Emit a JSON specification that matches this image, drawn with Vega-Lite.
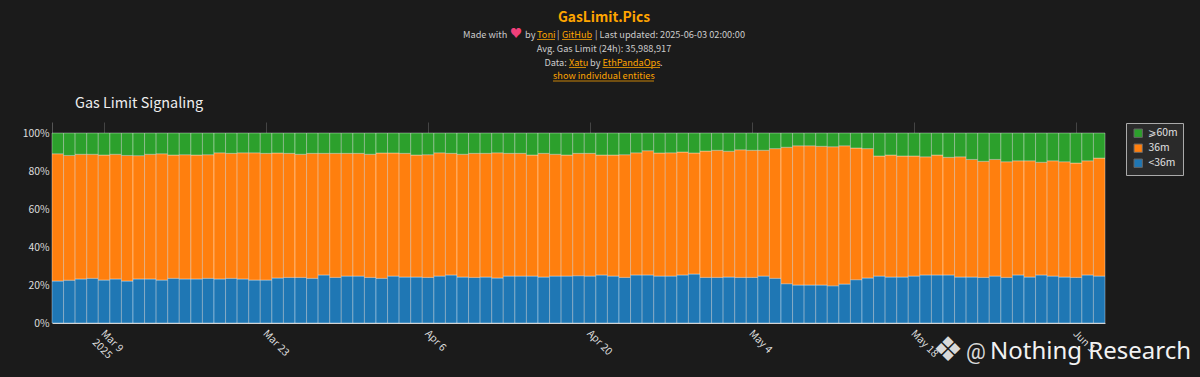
{"$schema":"https://vega.github.io/schema/vega-lite/v6.json","autosize":{"type":"none"},"width":1053,"height":201,"padding":{"left":52,"top":122,"right":95,"bottom":54},"background":"#1b1b1b","config":{"view":{"stroke":null},"font":"Noto Sans CJK SC","text":{"font":"Noto Sans CJK SC"}},"layer":[{"data":{"values":[
{"d":"2025-03-05","<36m":22.1,"36m":67.0,"⩾60m":10.9},{"d":"2025-03-06","<36m":22.5,"36m":65.7,"⩾60m":11.8},{"d":"2025-03-07","<36m":23.2,"36m":65.6,"⩾60m":11.2},{"d":"2025-03-08","<36m":23.5,"36m":65.3,"⩾60m":11.2},{"d":"2025-03-09","<36m":22.6,"36m":65.8,"⩾60m":11.6},{"d":"2025-03-10","<36m":23.2,"36m":65.6,"⩾60m":11.2},{"d":"2025-03-11","<36m":22.1,"36m":66.1,"⩾60m":11.8},{"d":"2025-03-12","<36m":23.2,"36m":64.9,"⩾60m":11.9},{"d":"2025-03-13","<36m":23.2,"36m":65.6,"⩾60m":11.2},{"d":"2025-03-14","<36m":22.6,"36m":66.5,"⩾60m":10.9},{"d":"2025-03-15","<36m":23.5,"36m":64.9,"⩾60m":11.6},{"d":"2025-03-16","<36m":23.2,"36m":65.4,"⩾60m":11.4},{"d":"2025-03-17","<36m":23.2,"36m":65.2,"⩾60m":11.6},{"d":"2025-03-18","<36m":23.5,"36m":65.1,"⩾60m":11.4},{"d":"2025-03-19","<36m":23.2,"36m":66.4,"⩾60m":10.4},{"d":"2025-03-20","<36m":23.5,"36m":65.8,"⩾60m":10.7},{"d":"2025-03-21","<36m":23.2,"36m":66.4,"⩾60m":10.4},{"d":"2025-03-22","<36m":22.6,"36m":67.0,"⩾60m":10.4},{"d":"2025-03-23","<36m":22.6,"36m":66.7,"⩾60m":10.7},{"d":"2025-03-24","<36m":23.7,"36m":65.8,"⩾60m":10.5},{"d":"2025-03-25","<36m":24.0,"36m":65.3,"⩾60m":10.7},{"d":"2025-03-26","<36m":24.0,"36m":64.8,"⩾60m":11.2},{"d":"2025-03-27","<36m":23.5,"36m":65.8,"⩾60m":10.7},{"d":"2025-03-28","<36m":25.3,"36m":64.0,"⩾60m":10.7},{"d":"2025-03-29","<36m":24.0,"36m":65.3,"⩾60m":10.7},{"d":"2025-03-30","<36m":24.7,"36m":64.6,"⩾60m":10.7},{"d":"2025-03-31","<36m":24.7,"36m":64.6,"⩾60m":10.7},{"d":"2025-04-01","<36m":24.0,"36m":64.8,"⩾60m":11.2},{"d":"2025-04-02","<36m":23.5,"36m":66.0,"⩾60m":10.5},{"d":"2025-04-03","<36m":24.7,"36m":64.8,"⩾60m":10.5},{"d":"2025-04-04","<36m":24.2,"36m":65.1,"⩾60m":10.7},{"d":"2025-04-05","<36m":24.2,"36m":64.2,"⩾60m":11.6},{"d":"2025-04-06","<36m":24.0,"36m":64.6,"⩾60m":11.4},{"d":"2025-04-07","<36m":24.7,"36m":64.9,"⩾60m":10.4},{"d":"2025-04-08","<36m":25.3,"36m":64.0,"⩾60m":10.7},{"d":"2025-04-09","<36m":24.2,"36m":64.6,"⩾60m":11.2},{"d":"2025-04-10","<36m":24.0,"36m":65.3,"⩾60m":10.7},{"d":"2025-04-11","<36m":24.2,"36m":65.1,"⩾60m":10.7},{"d":"2025-04-12","<36m":23.7,"36m":65.9,"⩾60m":10.4},{"d":"2025-04-13","<36m":24.7,"36m":64.6,"⩾60m":10.7},{"d":"2025-04-14","<36m":24.7,"36m":64.6,"⩾60m":10.7},{"d":"2025-04-15","<36m":24.7,"36m":63.7,"⩾60m":11.6},{"d":"2025-04-16","<36m":24.2,"36m":65.1,"⩾60m":10.7},{"d":"2025-04-17","<36m":24.7,"36m":64.1,"⩾60m":11.2},{"d":"2025-04-18","<36m":24.7,"36m":63.7,"⩾60m":11.6},{"d":"2025-04-19","<36m":24.9,"36m":64.4,"⩾60m":10.7},{"d":"2025-04-20","<36m":24.7,"36m":64.6,"⩾60m":10.7},{"d":"2025-04-21","<36m":25.3,"36m":63.1,"⩾60m":11.6},{"d":"2025-04-22","<36m":24.7,"36m":63.7,"⩾60m":11.6},{"d":"2025-04-23","<36m":24.0,"36m":64.6,"⩾60m":11.4},{"d":"2025-04-24","<36m":25.3,"36m":64.3,"⩾60m":10.4},{"d":"2025-04-25","<36m":25.3,"36m":65.4,"⩾60m":9.3},{"d":"2025-04-26","<36m":24.7,"36m":64.8,"⩾60m":10.5},{"d":"2025-04-27","<36m":24.7,"36m":64.9,"⩾60m":10.4},{"d":"2025-04-28","<36m":25.3,"36m":64.7,"⩾60m":10.0},{"d":"2025-04-29","<36m":25.8,"36m":63.7,"⩾60m":10.5},{"d":"2025-04-30","<36m":24.0,"36m":66.5,"⩾60m":9.5},{"d":"2025-05-01","<36m":24.0,"36m":66.9,"⩾60m":9.1},{"d":"2025-05-02","<36m":24.2,"36m":66.2,"⩾60m":9.6},{"d":"2025-05-03","<36m":24.0,"36m":67.2,"⩾60m":8.8},{"d":"2025-05-04","<36m":24.0,"36m":66.9,"⩾60m":9.1},{"d":"2025-05-05","<36m":24.7,"36m":66.2,"⩾60m":9.1},{"d":"2025-05-06","<36m":23.5,"36m":68.3,"⩾60m":8.2},{"d":"2025-05-07","<36m":20.7,"36m":71.8,"⩾60m":7.5},{"d":"2025-05-08","<36m":20.0,"36m":73.3,"⩾60m":6.7},{"d":"2025-05-09","<36m":20.0,"36m":73.3,"⩾60m":6.7},{"d":"2025-05-10","<36m":20.0,"36m":73.0,"⩾60m":7.0},{"d":"2025-05-11","<36m":19.6,"36m":73.2,"⩾60m":7.2},{"d":"2025-05-12","<36m":20.5,"36m":72.8,"⩾60m":6.7},{"d":"2025-05-13","<36m":22.8,"36m":69.3,"⩾60m":7.9},{"d":"2025-05-14","<36m":23.7,"36m":68.1,"⩾60m":8.2},{"d":"2025-05-15","<36m":24.7,"36m":63.2,"⩾60m":12.1},{"d":"2025-05-16","<36m":24.2,"36m":64.2,"⩾60m":11.6},{"d":"2025-05-17","<36m":24.2,"36m":63.7,"⩾60m":12.1},{"d":"2025-05-18","<36m":24.7,"36m":63.2,"⩾60m":12.1},{"d":"2025-05-19","<36m":25.3,"36m":62.2,"⩾60m":12.5},{"d":"2025-05-20","<36m":25.3,"36m":63.1,"⩾60m":11.6},{"d":"2025-05-21","<36m":25.3,"36m":61.9,"⩾60m":12.8},{"d":"2025-05-22","<36m":24.2,"36m":63.3,"⩾60m":12.5},{"d":"2025-05-23","<36m":24.2,"36m":61.9,"⩾60m":13.9},{"d":"2025-05-24","<36m":24.0,"36m":61.1,"⩾60m":14.9},{"d":"2025-05-25","<36m":24.7,"36m":61.4,"⩾60m":13.9},{"d":"2025-05-26","<36m":24.0,"36m":60.9,"⩾60m":15.1},{"d":"2025-05-27","<36m":25.3,"36m":60.1,"⩾60m":14.6},{"d":"2025-05-28","<36m":24.2,"36m":61.2,"⩾60m":14.6},{"d":"2025-05-29","<36m":25.3,"36m":59.3,"⩾60m":15.4},{"d":"2025-05-30","<36m":24.7,"36m":60.7,"⩾60m":14.6},{"d":"2025-05-31","<36m":24.2,"36m":60.7,"⩾60m":15.1},{"d":"2025-06-01","<36m":24.0,"36m":60.2,"⩾60m":15.8},{"d":"2025-06-02","<36m":25.3,"36m":60.1,"⩾60m":14.6},{"d":"2025-06-03","<36m":24.7,"36m":62.1,"⩾60m":13.2}
]},"transform":[{"fold":["<36m","36m","⩾60m"],"as":["category","share"]},{"lookup":"category","from":{"data":{"values":[{"category":"<36m","rank":1},{"category":"36m","rank":2},{"category":"⩾60m","rank":3}]},"key":"category","fields":["rank"]}}],"mark":{"type":"bar","stroke":"#ffffff","strokeOpacity":0.35,"strokeWidth":1},"encoding":{"x":{"field":"d","type":"ordinal","sort":null,"title":null,"scale":{"paddingInner":0,"paddingOuter":0},"axis":{"values":["2025-03-09","2025-03-23","2025-04-06","2025-04-20","2025-05-04","2025-05-18","2025-06-01"],"labelExpr":"datum.value=='2025-03-09'?['Mar 9','2025']:utcFormat(toDate(datum.value),'%b %-d')","labelAngle":45,"labelAlign":"left","labelBaseline":"top","labelColor":"#dddddd","labelFontSize":10.4,"labelPadding":5,"labelOffset":2,"labelOverlap":false,"ticks":false,"grid":true,"gridColor":"#444444","domain":true,"domainColor":"#cccccc"}},"y":{"field":"share","type":"quantitative","stack":"zero","title":null,"scale":{"domain":[0,105.8],"nice":false},"axis":{"values":[0,20,40,60,80,100],"labelExpr":"datum.value+'%'","labelColor":"#dddddd","labelFontSize":10.4,"labelPadding":3,"ticks":false,"grid":false,"domain":true,"domainColor":"#555555"}},"color":{"field":"category","type":"nominal","scale":{"domain":["⩾60m","36m","<36m"],"range":["#2ca02c","#ff7f0e","#1f77b4"]},"legend":{"title":null,"orient":"none","legendX":1074,"legendY":1,"padding":5,"fillColor":"#2a2a2a","strokeColor":"#aaaaaa","symbolType":"square","symbolSize":70,"symbolOffset":2,"symbolStrokeWidth":1,"symbolStrokeColor":"#666666","labelColor":"#e0e0e0","labelFontSize":10.4,"labelOffset":5,"rowPadding":2}},"order":{"field":"rank","type":"quantitative"}}},
{"data":{"values":[{"t":"GasLimit.Pics"}]},"mark":{"type":"text","align":"center","baseline":"alphabetic","fontSize":13.8,"fontWeight":"bold","color":"#ffa500"},"encoding":{"text":{"field":"t"},"x":{"value":552},"y":{"value":-100}}},
{"data":{"values":[{"t":"Gas Limit Signaling"}]},"mark":{"type":"text","align":"left","baseline":"alphabetic","fontSize":14.4,"color":"#eeeeee"},"encoding":{"text":{"field":"t"},"x":{"value":23},"y":{"value":-14}}},
{"data":{"values":[{"t":"Made with"}]},"mark":{"type":"text","align":"left","baseline":"alphabetic","fontSize":9.2,"color":"#cccccc"},"encoding":{"text":{"field":"t"},"x":{"value":411},"y":{"value":-84.5}}},
{"data":{"values":[{"t":"♥"}]},"mark":{"type":"text","align":"center","baseline":"alphabetic","fontSize":12,"color":"#f0407a"},"encoding":{"text":{"field":"t"},"x":{"value":464},"y":{"value":-84}}},
{"data":{"values":[{"t":"by"}]},"mark":{"type":"text","align":"left","baseline":"alphabetic","fontSize":9.2,"color":"#cccccc"},"encoding":{"text":{"field":"t"},"x":{"value":473},"y":{"value":-84.5}}},
{"data":{"values":[{"t":"Toni"}]},"mark":{"type":"text","align":"left","baseline":"alphabetic","fontSize":9.2,"color":"#ffa500"},"encoding":{"text":{"field":"t"},"x":{"value":485},"y":{"value":-84.5}}},
{"data":{"values":[{"t":"|"}]},"mark":{"type":"text","align":"left","baseline":"alphabetic","fontSize":9.2,"color":"#cccccc"},"encoding":{"text":{"field":"t"},"x":{"value":505},"y":{"value":-84.5}}},
{"data":{"values":[{"t":"GitHub"}]},"mark":{"type":"text","align":"left","baseline":"alphabetic","fontSize":9.2,"color":"#ffa500"},"encoding":{"text":{"field":"t"},"x":{"value":510},"y":{"value":-84.5}}},
{"data":{"values":[{"t":"| Last updated: 2025-06-03 02:00:00"}]},"mark":{"type":"text","align":"left","baseline":"alphabetic","fontSize":9.2,"color":"#cccccc"},"encoding":{"text":{"field":"t"},"x":{"value":543},"y":{"value":-84.5}}},
{"data":{"values":[{"t":"Avg. Gas Limit (24h): 35,988,917"}]},"mark":{"type":"text","align":"center","baseline":"alphabetic","fontSize":9.2,"color":"#cccccc"},"encoding":{"text":{"field":"t"},"x":{"value":552},"y":{"value":-70.5}}},
{"data":{"values":[{"t":"Data:"}]},"mark":{"type":"text","align":"left","baseline":"alphabetic","fontSize":9.2,"color":"#cccccc"},"encoding":{"text":{"field":"t"},"x":{"value":492.5},"y":{"value":-56.5}}},
{"data":{"values":[{"t":"Xatu"}]},"mark":{"type":"text","align":"left","baseline":"alphabetic","fontSize":9.2,"color":"#ffa500"},"encoding":{"text":{"field":"t"},"x":{"value":517},"y":{"value":-56.5}}},
{"data":{"values":[{"t":"by"}]},"mark":{"type":"text","align":"left","baseline":"alphabetic","fontSize":9.2,"color":"#cccccc"},"encoding":{"text":{"field":"t"},"x":{"value":538},"y":{"value":-56.5}}},
{"data":{"values":[{"t":"EthPandaOps"}]},"mark":{"type":"text","align":"left","baseline":"alphabetic","fontSize":9.2,"color":"#ffa500"},"encoding":{"text":{"field":"t"},"x":{"value":550.5},"y":{"value":-56.5}}},
{"data":{"values":[{"t":"."}]},"mark":{"type":"text","align":"left","baseline":"alphabetic","fontSize":9.2,"color":"#cccccc"},"encoding":{"text":{"field":"t"},"x":{"value":608},"y":{"value":-56.5}}},
{"data":{"values":[{"t":"show individual entities"}]},"mark":{"type":"text","align":"left","baseline":"alphabetic","fontSize":9.2,"color":"#ffa500"},"encoding":{"text":{"field":"t"},"x":{"value":501},"y":{"value":-43}}},
{"data":{"values":[{"k":"Toni"}]},"mark":{"type":"rule","color":"#c98408","strokeWidth":1},"encoding":{"x":{"value":485},"x2":{"value":503},"y":{"value":-82.5}}},
{"data":{"values":[{"k":"GitHub"}]},"mark":{"type":"rule","color":"#c98408","strokeWidth":1},"encoding":{"x":{"value":510},"x2":{"value":540},"y":{"value":-82.5}}},
{"data":{"values":[{"k":"Xatu"}]},"mark":{"type":"rule","color":"#c98408","strokeWidth":1},"encoding":{"x":{"value":517},"x2":{"value":534},"y":{"value":-54.5}}},
{"data":{"values":[{"k":"EthPandaOps"}]},"mark":{"type":"rule","color":"#c98408","strokeWidth":1},"encoding":{"x":{"value":550.5},"x2":{"value":608},"y":{"value":-54.5}}},
{"data":{"values":[{"k":"show"}]},"mark":{"type":"rule","color":"#c98408","strokeWidth":1},"encoding":{"x":{"value":501},"x2":{"value":602},"y":{"value":-41}}},
{"data":{"values":[{"t":"❖"}]},"mark":{"type":"text","align":"center","baseline":"middle","fontSize":34,"font":"DejaVu Sans","color":"#d9d9d9"},"encoding":{"text":{"field":"t"},"x":{"value":896},"y":{"value":229}}},
{"data":{"values":[{"t":"@"}]},"mark":{"type":"text","align":"left","baseline":"alphabetic","fontSize":22,"font":"Roboto","color":"#d9d9d9"},"encoding":{"text":{"field":"t"},"x":{"value":914},"y":{"value":237}}},
{"data":{"values":[{"t":"Nothing Research"}]},"mark":{"type":"text","align":"left","baseline":"alphabetic","fontSize":24,"font":"Noto Sans","color":"#f2f2f2"},"encoding":{"text":{"field":"t"},"x":{"value":938},"y":{"value":237}}}
]}
